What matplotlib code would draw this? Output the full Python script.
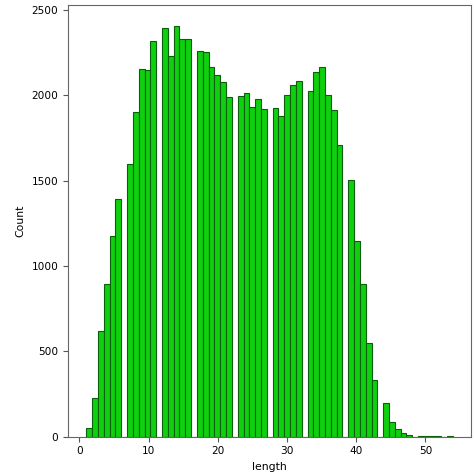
import numpy as np
import matplotlib
matplotlib.use("Agg")
import matplotlib.pyplot as plt

# counts of each integer length (1..54)
lengths = np.arange(1, 55)
counts = [49, 227, 618, 892, 1178, 1391, 1597, 1902, 2154, 2148,
          2320, 2395, 2231, 2409, 2328, 2328, 2262, 2254, 2168, 2121,
          2076, 1988, 1996, 2016, 1930, 1976, 1918, 1924, 1877, 2002,
          2060, 2084, 2023, 2137, 2168, 2002, 1915, 1710, 1503, 1145,
          892, 548, 329, 196, 88, 45, 22, 10, 6, 5,
          4, 4, 0, 3]
n_bins = 63

fig = plt.figure(figsize=(4.74, 4.74), dpi=100)
ax = fig.add_axes([0.1435, 0.079, 0.851, 0.9105])

edges = np.linspace(lengths.min(), lengths.max(), n_bins + 1)
ax.hist(lengths, bins=edges, weights=counts, facecolor="#0fd00f",
        edgecolor="#0b5e0b", linewidth=0.8)

ax.margins(x=0.05, y=0.05)
ax.set_xticks([0, 10, 20, 30, 40, 50])
ax.set_yticks([0, 500, 1000, 1500, 2000, 2500])
ax.tick_params(labelsize=7.6, length=3.5, color="#555555")
ax.set_xlabel("length", fontsize=7.8)
ax.set_ylabel("Count", fontsize=7.8)
for s in ax.spines.values():
    s.set_color("#666666")

fig.savefig("out.png", dpi=100)
